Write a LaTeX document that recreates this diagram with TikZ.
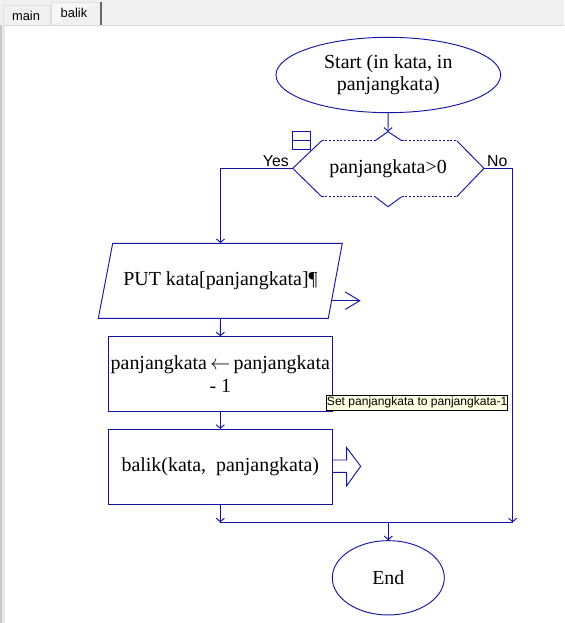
\documentclass[tikz,border=0pt]{standalone}
\usepackage{fontspec}
\setmainfont{Liberation Serif}
\setsansfont{Liberation Sans}
\usetikzlibrary{arrows.meta,shapes.geometric}
\definecolor{flowblue}{RGB}{20,20,165}
\definecolor{tabgray}{RGB}{240,240,240}
\definecolor{tipyellow}{RGB}{255,255,225}
\tikzset{
  flow/.style={draw=flowblue,line width=0.8pt},
  link/.style={draw=flowblue,line width=0.8pt,-{Straight Barb[length=3pt,width=7pt]}},
  terminal/.style={flow,ellipse,inner sep=0pt,align=center,font=\fontsize{17}{19}\selectfont},
  stepbox/.style={flow,rectangle,inner sep=0pt,minimum width=6.72cm,minimum height=2.25cm,align=center,font=\fontsize{17}{19}\selectfont},
  tablabel/.style={font=\sffamily\fontsize{11}{13}\selectfont},
}

\begin{document}
\begin{tikzpicture}[x=0.03cm,y=-0.03cm]
\useasboundingbox (0,0) rectangle (564,623);
% window frame and tabs
\fill[tabgray] (0,0) rectangle (564,25);
\draw[black!15,line width=0.8pt] (0,25) -- (564,25);
\fill[black!22] (0,25) rectangle (2,623);
\fill[black!9] (2,25) rectangle (5,623);
\draw[black!12,fill=tabgray] (3,25) -- (3,5) -- (50,5) -- (50,25);
\draw[black!12,fill=black!3] (51,25) -- (51,2) -- (101,2);
\draw[black!60,line width=1pt] (101,2) -- (101,25);
\node[tablabel] (tabmain) at (26,16) {main};
\node[tablabel] (tabbalik) at (74,13) {balik};

% start
\node[terminal,minimum width=6.74cm,minimum height=2.26cm] (start) at (388.3,75) {Start (in kata, in\\panjangkata)};

% decision
\coordinate (dtop) at (388,131.7);
\coordinate (dleft) at (292.7,168.3);
\coordinate (dright) at (484,168.3);
\draw[flow] (375,140.7) -- (dtop) -- (401.7,140.7);
\draw[flow] (375,196.7) -- (388,206.7) -- (401.7,196.7);
\draw[flow] (321.7,140.7) -- (dleft) -- (321.7,196.7);
\draw[flow] (456.7,140.7) -- (dright) -- (456.7,196.7);
\foreach \y in {140.7,196.7}
  \draw[flow,dash pattern=on 1.6pt off 1.6pt] (321.7,\y) -- (375,\y) (401.7,\y) -- (456.7,\y);
\node[font=\fontsize{17}{19}\selectfont] (cond) at (388,168.3) {panjangkata>0};
\draw[flow] (292.3,131.7) rectangle (310.7,149.3);
\draw[flow] (292.3,140.7) -- (310.7,140.7);
\node[anchor=base east,font=\sffamily\fontsize{13.5}{15}\selectfont,inner sep=0pt] (yes) at (289,166.5) {Yes};
\node[anchor=base west,font=\sffamily\fontsize{13.5}{15}\selectfont,inner sep=0pt] (no) at (487,166.5) {No};

% output
\node[inner sep=0pt,minimum width=6.72cm,minimum height=2.25cm,font=\fontsize{17}{19}\selectfont] (put) at (220.5,280.8) {PUT kata[panjangkata]¶};
\draw[flow] (112.7,243.3) -- (342.3,243.3) -- (328.3,318.3) -- (98.3,318.3) -- cycle;
\coordinate (putout) at (331.6,300.7);
\coordinate (putend) at (360.7,300.7);
\draw[flowblue,line width=0.8pt,-{Straight Barb[length=12.5pt,width=15pt]}] (putout) -- (putend);

% assignment and call
\node[stepbox] (calc) at (220.3,374.2) {panjangkata\kern-1.5pt{} $\leftarrow$\kern-1.5pt{} panjangkata\\- 1};
\node[stepbox,minimum height=2.24cm] (call) at (220.3,466.7) {balik(kata,~ panjangkata)};
\draw[flow] (332.3,460) -- (346.7,460) -- (346.7,447.7) -- (360.7,466.3) -- (346.7,485.7) -- (346.7,472.3) -- (332.3,472.3);

% end
\node[terminal,minimum width=3.36cm,minimum height=2.23cm] (stop) at (388.3,577.8) {End};

% connectors
\coordinate (join) at (220.3,522.3);
\coordinate (nojoin) at (512.7,522.3);
\coordinate (mid) at (388.3,522.3);
\draw[link] (start) -- (dtop);
\draw[link] (dleft) -| (put.north);
\draw[link] (dright) -| (nojoin);
\draw[link] (put.south) -- (calc.north);
\draw[link] (calc.south) -- (call.north);
\draw[link] (call.south) -- (join);
\draw[flow] (join) -- (nojoin);
\draw[link] (mid) -- (stop.north);

% tooltip
\node[draw=black,line width=0.6pt,fill=tipyellow,inner sep=0pt,minimum width=5.43cm,minimum height=0.45cm,font=\sffamily\fontsize{10.3}{12}\selectfont] (hint) at (417.2,402.5) {Set panjangkata to panjangkata-1};
\end{tikzpicture}
\end{document}
